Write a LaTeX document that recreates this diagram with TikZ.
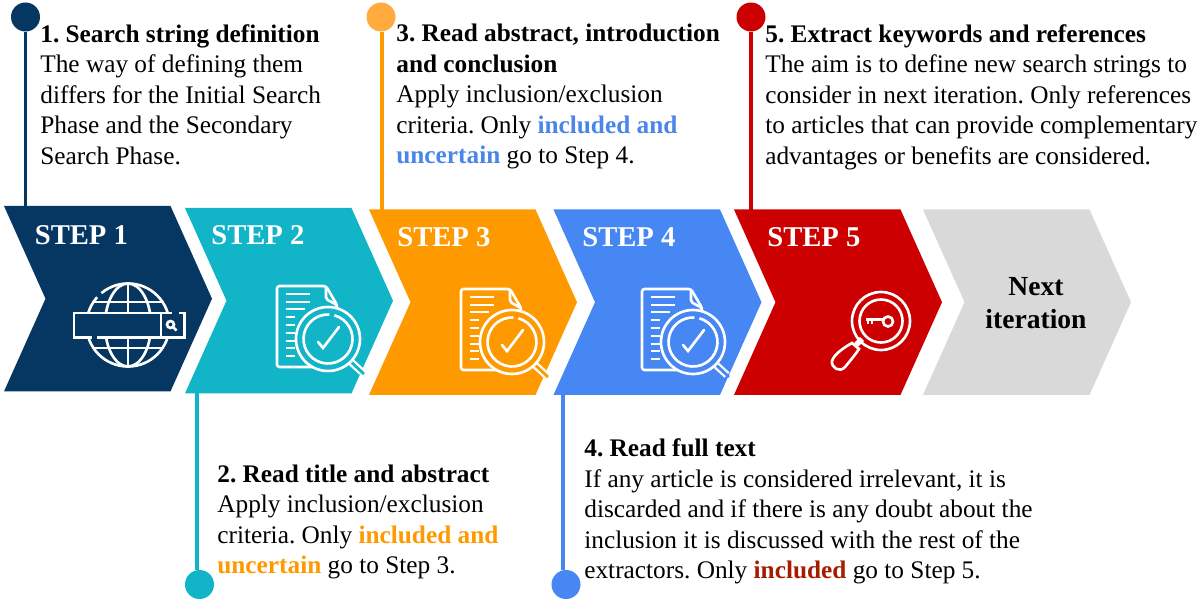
\documentclass[tikz,border=0pt]{standalone}
\usepackage{xcolor}
\usepackage{fontspec}
\setmainfont{Liberation Serif}
\frenchspacing

\definecolor{navystep}{HTML}{063763}
\definecolor{tealstep}{HTML}{12B5C8}
\definecolor{orangestep}{HTML}{FF9900}
\definecolor{orangedot}{HTML}{FFAB40}
\definecolor{bluestep}{HTML}{4687F4}
\definecolor{bluetext}{HTML}{4A86E8}
\definecolor{redstep}{HTML}{CC0000}
\definecolor{redtext}{HTML}{A61C00}
\definecolor{graystep}{HTML}{D9D9D9}

\tikzset{
  dot/.style={circle, minimum size=0.58cm, inner sep=0pt},
  stem/.style={line width=1.9pt},
  steplabel/.style={anchor=base west, inner sep=0pt, text=white, font=\fontsize{16.3}{18}\selectfont\bfseries},
  textblock/.style={anchor=north west, align=left, inner sep=0pt,
    font=\fontsize{14.4}{17.35}\selectfont},
  iconline/.style={draw=white, line width=1.5pt},
}

% chevron: left x, top y, colour
\newcommand{\chevron}[3]{
  \fill[#3] (#1,#2) -- ++(166.5,0) -- ++(41.5,92.7) -- ++(-41.5,92.7) -- ++(-166.5,0) -- ++(41.5,-92.7) -- cycle;
}

% document and lens: left x, top y, colour
\newcommand{\docicon}[3]{
  \begin{scope}[shift={(#1,#2)}, iconline]
    \draw[rounded corners=1.5pt] (49,0) -- (0,0) -- (0,81) -- (60,81) -- (60,19) -- cycle;
    \draw[rounded corners=1pt] (49,1) -- (49,13) -- (60,19);
    \foreach \y/\e in {8/33, 16/33, 23/28, 31/18, 39/18, 47/18, 55/18, 62/18, 70/18}
      \draw (9,\y) -- (\e,\y);
    \draw[line width=4.2pt] (74,76) -- (85,86);
    \draw[#3, line width=1.6pt] (72,74) -- (87,88);
    \draw[fill=#3] (51,53) circle[radius=32];
    \draw (51,53) ++(-75:24.5) arc[start angle=-75, delta angle=348, radius=24.5];
    \draw[line cap=round] (41,56) -- (46,62) -- (62,41);
  \end{scope}
}

\begin{document}
\begin{tikzpicture}[x=0.02cm, y=-0.02cm]
  \useasboundingbox (0,0) rectangle (1200,601);

  % Chevrons
  \chevron{4}{206}{navystep}
  \chevron{185}{208}{tealstep}
  \chevron{369}{209.5}{orangestep}
  \chevron{553.5}{209.5}{bluestep}
  \chevron{734}{209.5}{redstep}
  \chevron{923}{209.5}{graystep}

  % Ends of the stems
  \coordinate (top1) at (25.5,207);
  \coordinate (bottom2) at (197,393);
  \coordinate (top3) at (382,210);
  \coordinate (bottom4) at (563,394);
  \coordinate (top5) at (751,210);

  % Dots
  \node[dot, fill=navystep] (dot1) at (25.5,17) {};
  \node[dot, fill=tealstep] (dot2) at (199.5,584.5) {};
  \node[dot, fill=orangedot] (dot3) at (381,17) {};
  \node[dot, fill=bluestep] (dot4) at (566,584.5) {};
  \node[dot, fill=redstep] (dot5) at (751,17) {};

  % Stems
  \draw[stem, navystep] (top1) -- (top1 |- dot1.south);
  \draw[stem, tealstep] (bottom2) -- (bottom2 |- dot2.north);
  \draw[stem, orangestep] (top3) -- (top3 |- dot3.south);
  \draw[stem, bluestep] (bottom4) -- (bottom4 |- dot4.north);
  \draw[stem, redstep] (top5) -- (top5 |- dot5.south);

  % Step labels
  \node[steplabel] (step1) at (34.5,245) {STEP 1};
  \node[steplabel] (step2) at (211,245) {STEP 2};
  \node[steplabel] (step3) at (397,247) {STEP 3};
  \node[steplabel] (step4) at (582,247) {STEP 4};
  \node[steplabel] (step5) at (767,247) {STEP 5};
  \node[align=center, inner sep=0pt, font=\fontsize{15.7}{18.8}\selectfont\bfseries] (next) at (1036,303) {Next\\iteration};

  % Text blocks
  \node[textblock] (text1) at (40,24) {\textbf{1. Search string definition}\\The way of defining them\\differs for the Initial Search\\Phase and the Secondary\\Search Phase.};
  \node[textblock] (text2) at (217,464.5) {\textbf{2. Read title and abstract}\\Apply inclusion/exclusion\\criteria. Only \textbf{\textcolor{orangestep}{included and}}\\\textbf{\textcolor{orangestep}{uncertain}} go to Step 3.};
  \node[textblock] (text3) at (396,24) {\textbf{3. Read abstract, introduction}\\\textbf{and conclusion}\\Apply inclusion/exclusion\\criteria. Only \textbf{\textcolor{bluetext}{included and}}\\\textbf{\textcolor{bluetext}{uncertain}} go to Step 4.};
  \node[textblock] (text4) at (584,438.5) {\textbf{4. Read full text}\\If any article is considered irrelevant, it is\\discarded and if there is any doubt about the\\inclusion it is discussed with the rest of the\\extractors. Only \textbf{\textcolor{redtext}{included}} go to Step 5.};
  \node[textblock] (text5) at (765,24) {\textbf{5. Extract keywords and references}\\The aim is to define new search strings to\\consider in next iteration. Only references\\to articles that can provide complementary\\advantages or benefits are considered.};

  % Globe and search bar
  \begin{scope}[iconline]
    \draw (128,325) circle[radius=41.5];
    \draw (128,283.5) -- (128,366.5);
    \draw (128,325) ellipse[x radius=23, y radius=41.5];
    \draw (94,302) -- (162,302);
    \draw (94,348) -- (162,348);
    \draw[fill=navystep] (74,313) rectangle (184.5,337.5);
    \draw (161,313) -- (161,337.5);
    \draw (170.5,324.5) circle[radius=3.5];
    \draw (173,327) -- (176.5,330.5);
    % gaps in the outlines
    \draw[navystep, line width=2.6pt] (97,297) -- (101,293);
    \draw[navystep, line width=2.6pt] (92,337.5) -- (97,337.5);
    \draw[navystep, line width=2.6pt] (172,313) -- (179,313);
  \end{scope}

  % Documents with lens
  \docicon{277}{286}{tealstep}
  \docicon{461}{289}{orangestep}
  \docicon{642}{289}{bluestep}

  % Lens with key
  \begin{scope}[iconline]
    \draw (852,343) .. controls (845,347) and (834,354) .. (832,361) .. controls (831,368) and (840,373) .. (845,367) .. controls (850,361) and (855,355) .. (859,349) -- cycle;
    \draw[line width=3.2pt] (856,345) -- (862,339);
    \draw (881,321) circle[radius=29];
    \draw (881,321) circle[radius=21.5];
    \draw (888,321.5) circle[radius=5];
    \draw[line width=1.8pt] (866,319.5) -- (883,319.5);
    \draw[line width=1.2pt] (868,320) -- (868,323.5);
    \draw[line width=1.2pt] (872,320) -- (872,323.5);
  \end{scope}
\end{tikzpicture}
\end{document}
